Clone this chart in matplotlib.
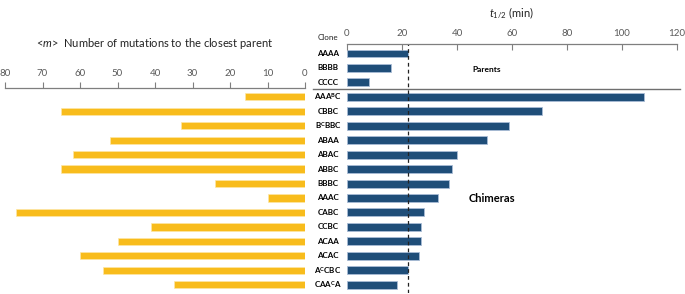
import matplotlib

matplotlib.use("Agg")
import matplotlib.pyplot as plt
import matplotlib.transforms as mtransforms
from matplotlib.lines import Line2D

# clone labels, top to bottom (3 parents then 14 chimeras)
clones = [
    "AAAA", "BBBB", "CCCC",
    r"AAA$^{\mathbf{B}}$C", "CBBC", r"B$^{\mathbf{C}}$BBC", "ABAA", "ABAC",
    "ABBC", "BBBC", "AAAC", "CABC", "CCBC", "ACAA", "ACAC",
    r"A$^{\mathbf{C}}$CBC", r"CAA$^{\mathbf{C}}$A",
]
half_life = [22, 16, 8, 108, 71, 59, 51, 40, 38, 37, 33, 28, 27, 27, 26, 22, 18]
# mutations only for chimeras
mutations = [16, 65, 33, 52, 62, 65, 24, 10, 77, 41, 50, 60, 54, 35]
parent_ref = 22
n_parents = 3

plt.rcParams["font.family"] = ["Lato", "DejaVu Sans"]
plt.rcParams["mathtext.fontset"] = "custom"
plt.rcParams["mathtext.rm"] = "Lato"
plt.rcParams["mathtext.it"] = "Lato:italic"
plt.rcParams["mathtext.bf"] = "Lato:bold"

W, H = 685, 294
fig = plt.figure(figsize=(W / 100, H / 100), dpi=100)

row0, step = 53.5, 14.45
top_px, bot_px = 44, 293


def px_to_row(p):
    return (p - row0) / step


gold = "#F8BC1C"
blue = "#1F4E79"
grey_txt = "#595959"
axis_col = "#7f7f7f"

# right panel: half life
axr = fig.add_axes([347 / W, 1 - bot_px / H, 330 / W, (bot_px - top_px) / H])
rows = list(range(len(clones)))
axr.barh(rows, half_life, height=0.55, color=blue, edgecolor="#a9bcd6",
         linewidth=0.6)
axr.set_xlim(0, 120)
axr.set_ylim(px_to_row(bot_px), px_to_row(top_px))
axr.axvline(parent_ref, color="#222222", linestyle=(0, (3, 2.5)), linewidth=0.9)
axr.xaxis.set_ticks_position("top")
axr.xaxis.set_label_position("top")
axr.set_xticks(range(0, 121, 20))
axr.tick_params(axis="x", direction="in", length=4, width=0.8, color=axis_col,
                labelsize=7, labelcolor=grey_txt, pad=4)
axr.set_yticks([])
for side in ["bottom", "left", "right"]:
    axr.spines[side].set_visible(False)
axr.spines["top"].set_color(axis_col)
axr.spines["top"].set_linewidth(0.9)
axr.set_xlabel(r"$t_{1/2}$ (min)", fontsize=8, color="#222222", labelpad=9)

lab_tr = mtransforms.blended_transform_factory(fig.transFigure, axr.transData)
axr.text(487 / W, px_to_row(69), "Parents", transform=lab_tr,
         ha="center", va="center", fontsize=6, fontweight="bold")
axr.text(492 / W, px_to_row(199), "Chimeras", transform=lab_tr,
         ha="center", va="center", fontsize=8, fontweight="bold")

# clone labels
for i, name in enumerate(clones):
    axr.text(328 / W, i, name, transform=lab_tr, ha="center", va="center",
             fontsize=5.8, fontweight="bold", clip_on=False)
fig.text(328 / W, 1 - 37 / H, "Clone", ha="center", va="center", fontsize=5.8,
         color="#222222")

# separator between parents and chimeras
sep_y = 1 - 89 / H
fig.add_artist(Line2D([313 / W, 680 / W], [sep_y, sep_y], color="#6f6f6f",
                      linewidth=1.0, transform=fig.transFigure))

# left panel: mutations
left_top = 88
axl = fig.add_axes([5 / W, 1 - bot_px / H, 300 / W, (bot_px - left_top) / H])
axl.barh(rows[n_parents:], mutations, height=0.5, color=gold, edgecolor="#fde7a6",
         linewidth=0.5)
axl.set_xlim(80, 0)
axl.set_ylim(px_to_row(bot_px), px_to_row(left_top))
axl.xaxis.set_ticks_position("top")
axl.xaxis.set_label_position("top")
axl.set_xticks(range(0, 81, 10))
axl.tick_params(axis="x", direction="out", length=4, width=0.8, color=axis_col,
                labelsize=7, labelcolor=grey_txt, pad=3)
axl.set_yticks([])
for side in ["bottom", "left", "right"]:
    axl.spines[side].set_visible(False)
axl.spines["top"].set_color(axis_col)
axl.spines["top"].set_linewidth(0.9)
axl.set_xlabel(r"<$m$>  Number of mutations to the closest parent", fontsize=8,
               color="#222222", labelpad=16)

fig.savefig("out.png", dpi=100)
